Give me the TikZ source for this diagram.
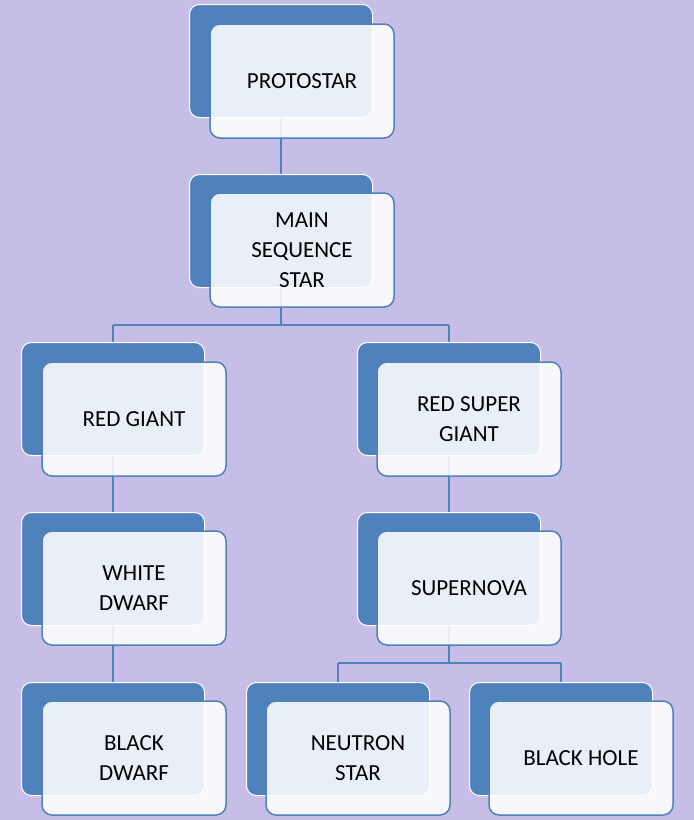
\documentclass[tikz,border=0pt]{standalone}
\usepackage{fontspec}
\setmainfont{Carlito}
\begin{document}
\begin{tikzpicture}[x=1pt,y=-1pt,
  back/.style={draw=white,line width=1pt,fill=blue1,rounded corners=10pt,minimum width=183pt,minimum height=113pt},
  front/.style={draw=blue1,line width=1.5pt,fill=white,fill opacity=0.88,text opacity=1,rounded corners=10pt,minimum width=184pt,minimum height=114pt,align=center,font=\fontsize{23}{30}\selectfont,text=black},
  conn/.style={draw=blue1,line width=1.8pt}]
\definecolor{blue1}{HTML}{4F81BD}
\definecolor{bg}{HTML}{C6BEE6}
\fill[bg] (0,0) rectangle (694,820);
\useasboundingbox (0,0) rectangle (694,820);
% back boxes
\foreach \n/\x/\y in {pb/281/61, mb/281/231, rgb/113/399, rsb/449/399, wdb/113/569, snb/449/569, bdb/113/739, nsb/338/739, bhb/561/739}
  \node[back] (\n) at (\x,\y) {};
% connectors
\coordinate (j1) at (281,325); \coordinate (j1l) at (113,325); \coordinate (j1r) at (449,325);
\coordinate (j2) at (449,663); \coordinate (j2l) at (338,663); \coordinate (j2r) at (561,663);
\draw[conn] (pb.south) -- (mb.north);
\draw[conn] (mb.south) -- (j1) (j1l) -- (j1r) (j1l) -- (rgb.north) (j1r) -- (rsb.north);
\draw[conn] (rgb.south) -- (wdb.north);
\draw[conn] (wdb.south) -- (bdb.north);
\draw[conn] (rsb.south) -- (snb.north);
\draw[conn] (snb.south) -- (j2) (j2l) -- (j2r) (j2l) -- (nsb.north) (j2r) -- (bhb.north);
% front boxes
\node[front] (p) at (302,81) {PROTOSTAR};
\node[front] (m) at (302,250) {MAIN\\SEQUENCE\\STAR};
\node[front] (rg) at (134,419) {RED GIANT};
\node[front] (rs) at (469,419) {RED SUPER\\GIANT};
\node[front] (wd) at (134,588) {WHITE\\DWARF};
\node[front] (sn) at (469,588) {SUPERNOVA};
\node[front] (bd) at (134,758) {BLACK\\DWARF};
\node[front] (ns) at (358,758) {NEUTRON\\STAR};
\node[front] (bh) at (581,758) {BLACK HOLE};
\end{tikzpicture}
\end{document}
